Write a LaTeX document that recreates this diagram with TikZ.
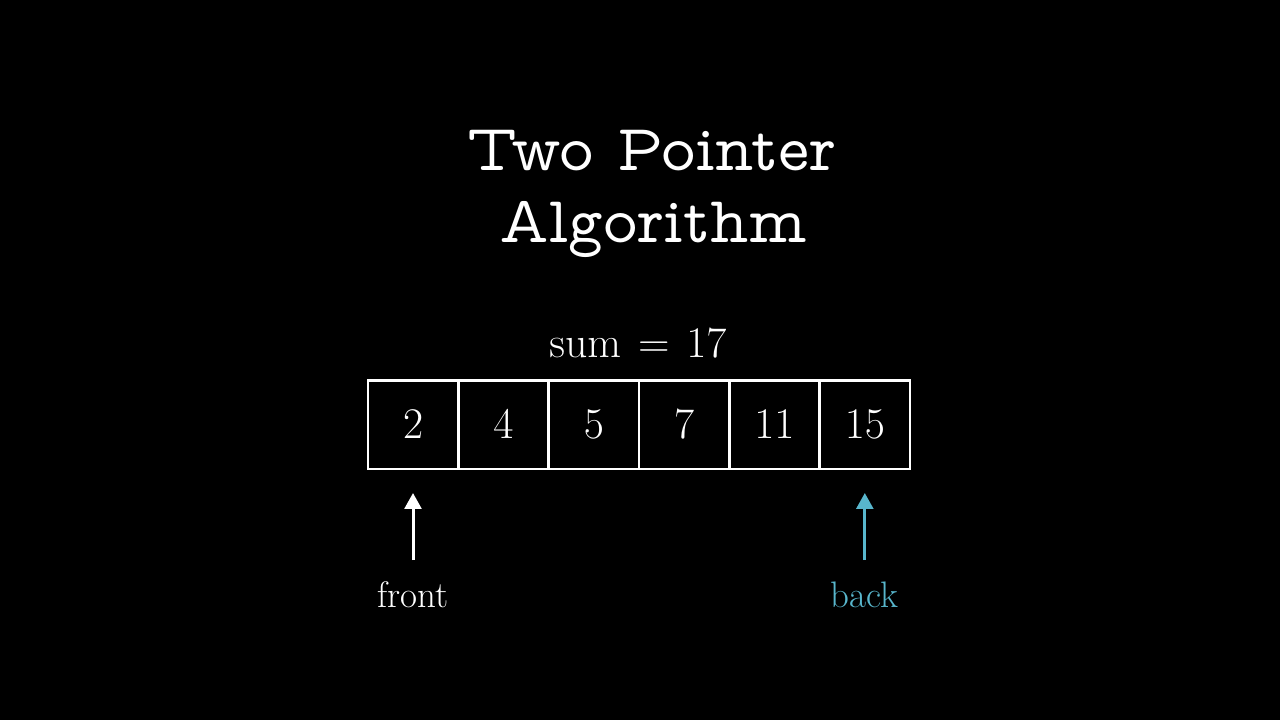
\documentclass[tikz,border=0pt]{standalone}
\usepackage{tikz}
\usetikzlibrary{arrows.meta}
\usetikzlibrary{positioning}
\tikzset{cell/.style = {draw=white, line width=1.7pt, outer sep=0, inner sep=0,
                        minimum width=1.807cm, minimum height=1.78cm,
                        text=white, font=\fontsize{28}{32}\selectfont}}
\tikzset{ptr/.style = {line width=1.7pt, -{Triangle[length=9pt, width=9.5pt]}}}
\tikzset{lbl/.style = {font=\fontsize{21}{24}\selectfont, anchor=base}}
\tikzset{ttl/.style = {text=white, anchor=base,
                       font=\fontfamily{lmvtt}\fontsize{37.5}{44}\selectfont}}
\definecolor{mteal}{RGB}{88, 182, 204}

\begin{document}
\begin{tikzpicture}[x=0.02cm, y=-0.02cm]
    \fill [black] (0, 0) rectangle (1280, 720);

    % title
    \node [ttl] (title1) at (652, 170) {Two Pointer};
    \node [ttl] (title2) at (653, 242) {Algorithm};

    \node [text=white, anchor=base, font=\fontsize{28}{32}\selectfont]
      (sum) at (638, 357) {$\mathrm{sum} \mskip2mu = \mskip2mu 17$};

    % array
    \foreach \v [count=\i] in {2, 4, 5, 7, 11, 15}
      \node [cell] (c\i) at ({368 + 90.33*(\i - 0.5)}, 424.5) {$\v$};

    % pointers
    \coordinate (fronttail) at (413, 560);
    \coordinate (fronttip) at (413, 493);
    \draw [ptr, white] (fronttail) -- (fronttip);
    \node [lbl, text=white] (front) at (413, 607) {front};

    \coordinate (backtail) at (864.8, 560);
    \coordinate (backtip) at (864.8, 493);
    \draw [ptr, mteal] (backtail) -- (backtip);
    \node [lbl, text=mteal] (back) at (864.8, 607) {back};
  \end{tikzpicture}
\end{document}
